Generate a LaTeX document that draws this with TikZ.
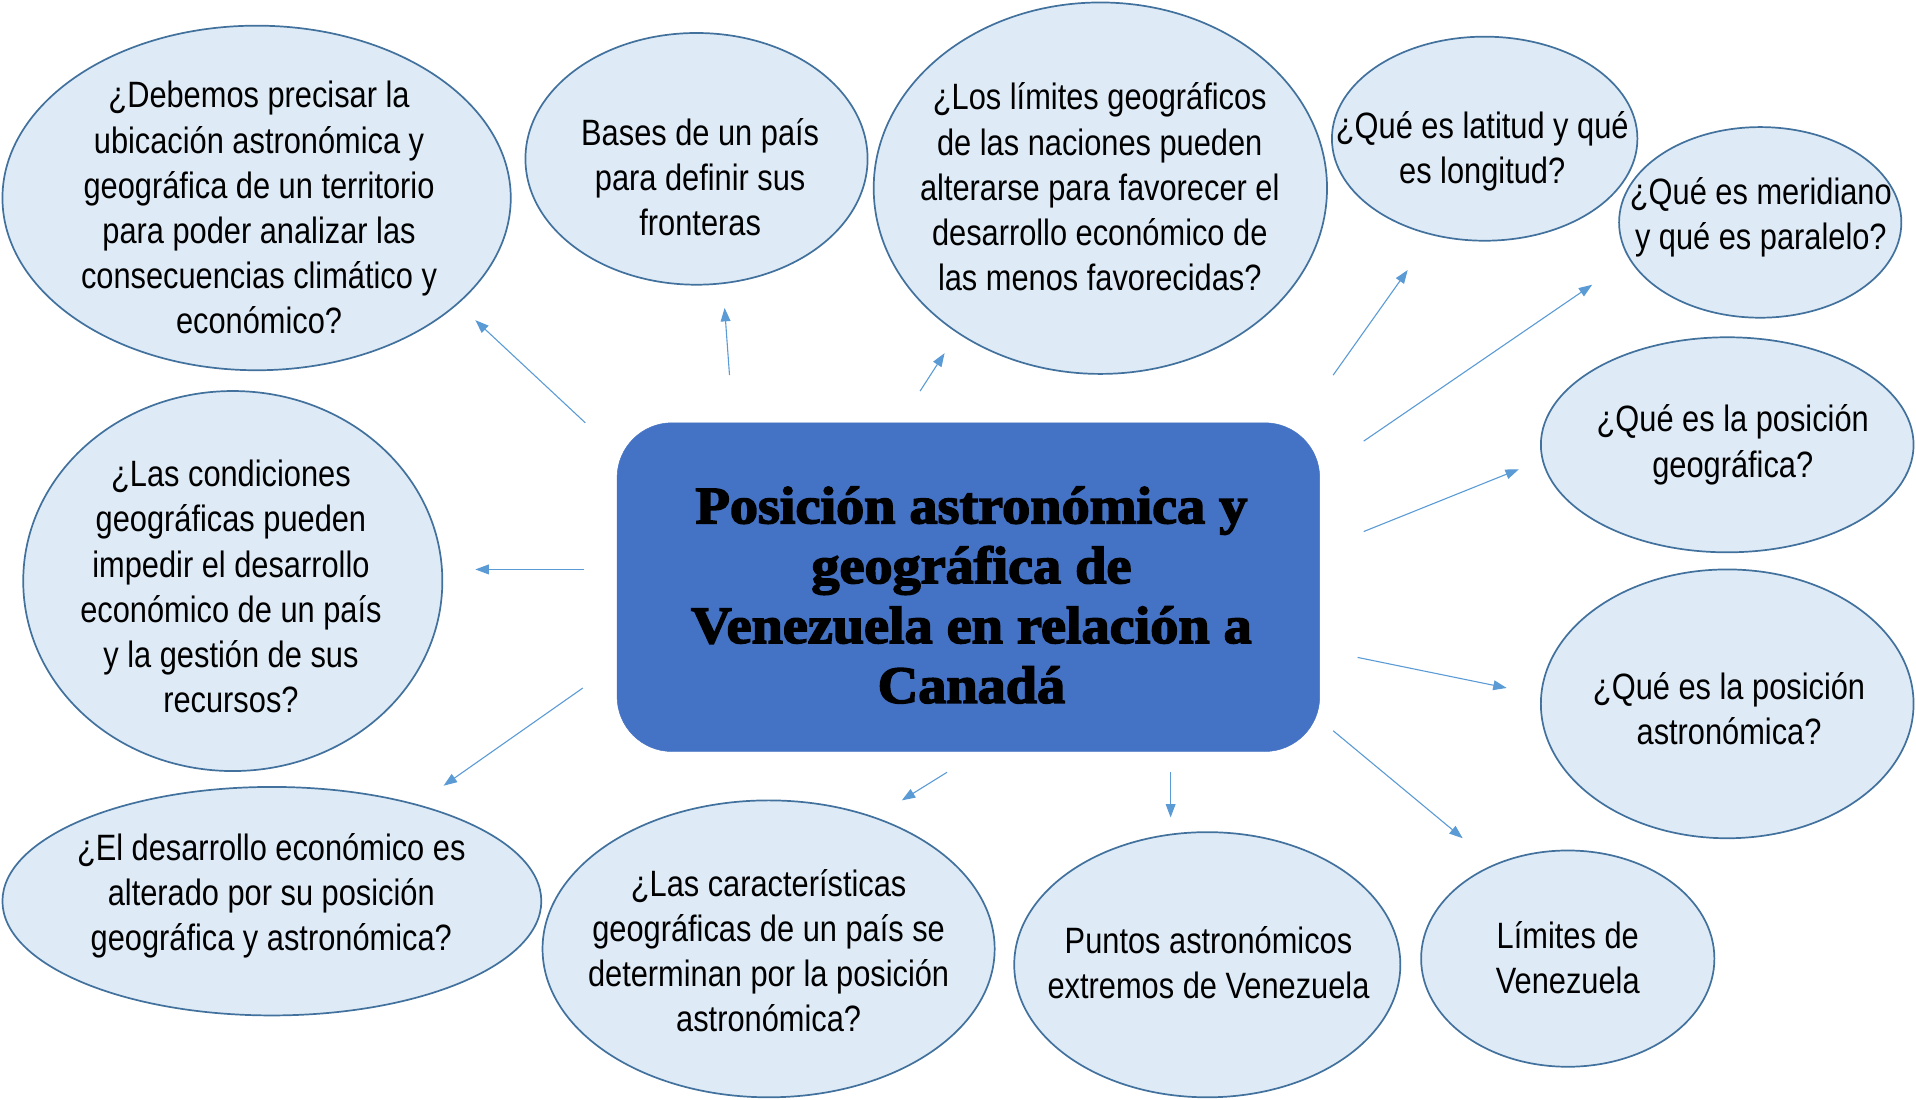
\documentclass[tikz,border=0pt]{standalone}
\usepackage{fontspec}
\setmainfont{Liberation Sans}[FakeStretch=0.84]
\newfontfamily\titlefont{Liberation Serif}[FakeStretch=1.07,BoldFont={Liberation Serif Bold},BoldFeatures={FakeBold=3}]
\usetikzlibrary{shapes.geometric,arrows.meta}
\definecolor{ellfill}{HTML}{DEEBF7}
\definecolor{elldraw}{HTML}{41719C}
\definecolor{boxfill}{HTML}{4472C4}
\definecolor{arrcol}{HTML}{5B9BD5}
\tikzset{
  ell/.style={ellipse,draw=elldraw,fill=ellfill,line width=1.4pt,inner sep=0pt},
  txt/.style={align=center,font=\fontsize{30}{37}\selectfont,inner sep=0pt},
  conn/.style={draw=arrcol,line width=0.9pt,-{Triangle[length=11pt,width=8pt]}},
  centralbox/.style={rectangle,rounded corners=45pt,fill=boxfill,draw=boxfill,inner sep=0pt}
}
\begin{document}
\begin{tikzpicture}[x=1pt,y=-1pt]
\useasboundingbox (0,0) rectangle (1568,900);
% central box
\node[centralbox,minimum width=575pt,minimum height=269pt] (c) at (792.5,480.5) {};
\node[align=center,inner sep=0pt,font=\titlefont\bfseries\fontsize{43}{49}\selectfont] (ct) at (795,487) {Posición astronómica y\\geográfica de\\Venezuela en relación a\\Canadá};
% ellipses
\node[ell,minimum width=416pt,minimum height=282pt] (e1) at (210,162) {};
\node[txt] (t1) at (212,170) {¿Debemos precisar la\\ubicación astronómica y\\geográfica de un territorio\\para poder analizar las\\consecuencias climático y\\económico?};
\node[ell,minimum width=280pt,minimum height=206pt] (e2) at (570,130) {};
\node[txt] (t2) at (573,145) {Bases de un país\\para definir sus\\fronteras};
\node[ell,minimum width=371pt,minimum height=304pt] (e3) at (900.5,154) {};
\node[txt] (t3) at (900,153) {¿Los límites geográficos\\de las naciones pueden\\alterarse para favorecer el\\desarrollo económico de\\las menos favorecidas?};
\node[ell,minimum width=250pt,minimum height=167pt] (e4) at (1215,113.5) {};
\node[txt] (t4) at (1213,124) {¿Qué es latitud y qué\\es longitud?};
\node[ell,minimum width=231pt,minimum height=156pt] (e5) at (1440.5,182) {};
\node[txt] (t5) at (1441,178) {¿Qué es meridiano\\y qué es paralelo?};
\node[ell,minimum width=305pt,minimum height=176pt] (e6) at (1413.5,364) {};
\node[txt] (t6) at (1418,364) {¿Qué es la posición\\geográfica?};
\node[ell,minimum width=305pt,minimum height=220pt] (e7) at (1413.5,576) {};
\node[txt] (t7) at (1415,580) {¿Qué es la posición\\astronómica?};
\node[ell,minimum width=240pt,minimum height=177pt] (e8) at (1283,784.5) {};
\node[txt] (t8) at (1283,784) {Límites de\\Venezuela};
\node[ell,minimum width=316pt,minimum height=217pt] (e9) at (988,789.5) {};
\node[txt] (t9) at (989,788) {Puntos astronómicos\\extremos de Venezuela};
\node[ell,minimum width=370pt,minimum height=243pt] (e10) at (629,776.5) {};
\node[txt] (t10) at (629,778) {¿Las características\\geográficas de un país se\\determinan por la posición\\astronómica?};
\node[ell,minimum width=441pt,minimum height=187pt] (e11) at (222.5,737.5) {};
\node[txt] (t11) at (222,733) {¿El desarrollo económico es\\alterado por su posición\\geográfica y astronómica?};
\node[ell,minimum width=343pt,minimum height=311pt] (e12) at (190.5,475.5) {};
\node[txt] (t12) at (189,480) {¿Las condiciones\\geográficas pueden\\impedir el desarrollo\\económico de un país\\y la gestión de sus\\recursos?};
% arrow end points
\coordinate (a1s) at (479,346); \coordinate (a1e) at (389,262);
\coordinate (a2s) at (597,307); \coordinate (a2e) at (593,252);
\coordinate (a3s) at (753,320); \coordinate (a3e) at (773,289);
\coordinate (a4s) at (1091,307); \coordinate (a4e) at (1152,221);
\coordinate (a5s) at (1116,361); \coordinate (a5e) at (1303,233);
\coordinate (a6s) at (1116,435); \coordinate (a6e) at (1243,384);
\coordinate (a7s) at (1111,538); \coordinate (a7e) at (1233,563);
\coordinate (a8s) at (1091,598); \coordinate (a8e) at (1197,686);
\coordinate (a9s) at (958,632); \coordinate (a9e) at (958,669);
\coordinate (a10s) at (775,632); \coordinate (a10e) at (738,655);
\coordinate (a11s) at (477,563); \coordinate (a11e) at (363,643);
\coordinate (a12s) at (478,466); \coordinate (a12e) at (389,466);
\foreach \i in {1,...,12} {\draw[conn] (a\i s) -- (a\i e);}
\end{tikzpicture}
\end{document}
